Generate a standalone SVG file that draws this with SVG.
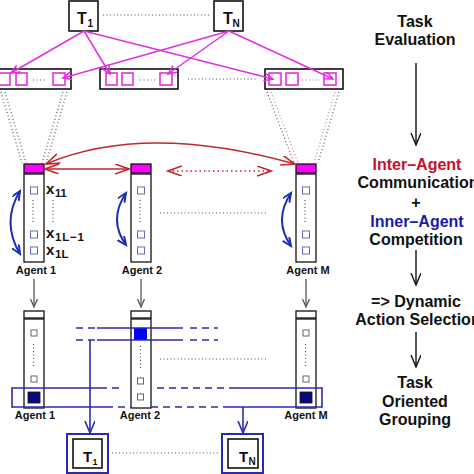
<svg xmlns="http://www.w3.org/2000/svg" width="474" height="474" viewBox="0 0 474 474">
<defs>
<marker id="mArr" markerUnits="userSpaceOnUse" markerWidth="12" markerHeight="10" refX="9" refY="4" orient="auto"><path d="M0,0 L9,4 L0,8" fill="none" stroke="#e030e0" stroke-width="1.5"/></marker>
<marker id="rArr" markerUnits="userSpaceOnUse" markerWidth="16" markerHeight="12" refX="14" refY="5" orient="auto-start-reverse"><path d="M0,0 L14,5 L0,10" fill="none" stroke="#c0282d" stroke-width="1.6"/></marker>
<marker id="bArr" markerUnits="userSpaceOnUse" markerWidth="12" markerHeight="10" refX="9" refY="4" orient="auto-start-reverse"><path d="M0,0 L9,4 L0,8" fill="none" stroke="#1c2fb0" stroke-width="2"/></marker>
<marker id="gArr" markerUnits="userSpaceOnUse" markerWidth="10" markerHeight="10" refX="8" refY="3.5" orient="auto"><path d="M0,0 L8,3.5 L0,7" fill="none" stroke="#555" stroke-width="1.3"/></marker>
<marker id="kArr" markerUnits="userSpaceOnUse" markerWidth="14" markerHeight="12" refX="12" refY="5" orient="auto"><path d="M0,0 L12,5 L0,10" fill="none" stroke="#111" stroke-width="1.4"/></marker>
<marker id="lArr" markerUnits="userSpaceOnUse" markerWidth="14" markerHeight="12" refX="12" refY="5" orient="auto"><path d="M0,0 L12,5 L0,10" fill="none" stroke="#2a2ab0" stroke-width="1.6"/></marker>
</defs>
<style>
.box{fill:#fff;stroke:#111;stroke-width:1.6}
.tbox{fill:none;stroke:#111;stroke-width:1.6}
.msq{fill:none;stroke:#e030e0;stroke-width:1.6}
.mag{stroke:#e030e0;stroke-width:1.5;fill:none}
.dot{stroke:#555;stroke-width:1.2;stroke-dasharray:1 2.5;fill:none}
.pdot{stroke:#d070d0;stroke-width:1.2;stroke-dasharray:1 2.5;fill:none}
.col{fill:#fff;stroke:#111;stroke-width:1.3}
.bar{fill:#ff00ff;stroke:#111;stroke-width:1.3}
.sq{fill:#fff;stroke:#6a6aa8;stroke-width:1}
.gsq{fill:#fff;stroke:#666;stroke-width:1}
.red{stroke:#c0282d;stroke-width:1.6;fill:none}
.blc{stroke:#1c2fb0;stroke-width:2;fill:none}
.bl{stroke:#2a2ab0;stroke-width:1.6;fill:none}
.bld{stroke:#2a2ab0;stroke-width:1.6;fill:none;stroke-dasharray:7 5}
.gl{stroke:#555;stroke-width:1.3;fill:none}
.kl{stroke:#111;stroke-width:1.4;fill:none}
.t{font-family:"Liberation Sans",Arial,sans-serif;font-weight:bold;fill:#111}
.lbl{font-family:"Liberation Sans",Arial,sans-serif;font-weight:bold;font-size:11px;fill:#111;text-anchor:middle}
.side{font-family:"Liberation Sans",Arial,sans-serif;font-weight:bold;font-size:16px;fill:#111;text-anchor:middle}
</style>

<!-- top task nodes -->
<g id="task-T1-top">
<rect class="box" x="69" y="1" width="29" height="30"/>
<text class="t" x="77" y="24" font-size="16">T</text><text class="t" x="87.5" y="27" font-size="10">1</text>
</g>
<g id="task-TN-top">
<rect class="box" x="214" y="1" width="29" height="30"/>
<text class="t" x="223" y="24" font-size="16">T</text><text class="t" x="232.5" y="27" font-size="10">N</text>
</g>
<line class="dot" x1="103" y1="15" x2="210" y2="15"/>

<!-- action buffers -->
<g id="buffer-1">
<rect class="box" x="-2" y="69" width="73" height="20"/>
<rect class="msq" x="-1" y="73" width="11" height="12"/>
<rect class="msq" x="16" y="73" width="11" height="12"/>
<rect class="msq" x="53" y="73" width="12" height="12"/>
<line class="dot" x1="33" y1="80" x2="46" y2="80"/>
</g>
<g id="buffer-2">
<rect class="box" x="100" y="69" width="78" height="20"/>
<rect class="msq" x="106" y="73" width="11" height="12"/>
<rect class="msq" x="122" y="73" width="11" height="12"/>
<rect class="msq" x="160" y="73" width="12" height="12"/>
<line class="dot" x1="140" y1="80" x2="156" y2="80"/>
</g>
<g id="buffer-M">
<rect class="box" x="265" y="69" width="78" height="20"/>
<rect class="msq" x="269" y="73" width="12" height="12"/>
<rect class="msq" x="286" y="73" width="12" height="12"/>
<rect class="msq" x="324" y="73" width="12" height="12"/>
<line class="dot" x1="302" y1="80" x2="320" y2="80" style="stroke:#c06060"/>
</g>
<line class="dot" x1="188" y1="79" x2="258" y2="79"/>

<!-- upper agents -->
<g id="agent-1">
<rect class="bar" x="24" y="164" width="20" height="9"/>
<rect class="col" x="24" y="174" width="20" height="88"/>
<rect class="sq" x="30.5" y="187" width="7" height="7"/>
<rect class="sq" x="30.5" y="231" width="7" height="7"/>
<rect class="sq" x="30.5" y="247" width="7" height="7"/>
<line class="dot" x1="33" y1="200" x2="33" y2="224"/>
<text class="t" x="46" y="194" font-size="15">x</text><text class="t" x="55" y="197" font-size="11">11</text>
<line class="dot" x1="53" y1="200" x2="53" y2="224"/>
<text class="t" x="46" y="238" font-size="15">x</text><text class="t" x="55" y="241" font-size="11.5" letter-spacing="0.8">1L−1</text>
<text class="t" x="46" y="255" font-size="15">x</text><text class="t" x="55" y="258" font-size="11.5">1L</text>
<text class="lbl" x="36" y="274">Agent 1</text>
</g>
<g id="agent-2">
<rect class="bar" x="131" y="164" width="20" height="9"/>
<rect class="col" x="131" y="174" width="20" height="88"/>
<rect class="sq" x="137.5" y="187" width="7" height="7"/>
<rect class="sq" x="137.5" y="231" width="7" height="7"/>
<rect class="sq" x="137.5" y="247" width="7" height="7"/>
<line class="dot" x1="140" y1="200" x2="140" y2="224"/>
<text class="lbl" x="142" y="274">Agent 2</text>
</g>
<g id="agent-M">
<rect class="bar" x="296" y="164" width="20" height="9"/>
<rect class="col" x="296" y="174" width="20" height="88"/>
<rect class="sq" x="302.5" y="187" width="7" height="7"/>
<rect class="sq" x="302.5" y="231" width="7" height="7"/>
<rect class="sq" x="302.5" y="247" width="7" height="7"/>
<line class="dot" x1="305" y1="200" x2="305" y2="224"/>
<text class="lbl" x="308" y="274">Agent M</text>
</g>
<line class="dot" x1="160" y1="213" x2="268" y2="213"/>

<!-- lower agents -->
<g id="agent-1-selected">
<rect class="col" x="24" y="311" width="20" height="7"/>
<rect class="col" x="24" y="319" width="20" height="89"/>
<rect class="gsq" x="31" y="330" width="6" height="6"/>
<line class="dot" x1="33.5" y1="344" x2="33.5" y2="368"/>
<rect class="gsq" x="31" y="376" width="6" height="6"/>
<rect x="28" y="392" width="12" height="11" fill="#0a0a80" stroke="#111" stroke-width="0.8"/>
<text class="lbl" x="35" y="419">Agent 1</text>
</g>
<g id="agent-2-selected">
<rect class="col" x="131" y="311" width="20" height="7"/>
<rect class="col" x="131" y="319" width="20" height="89"/>
<rect x="134" y="328" width="13" height="12" fill="#0000ff"/>
<line class="dot" x1="140.5" y1="346" x2="140.5" y2="368"/>
<rect class="gsq" x="137.5" y="378" width="6" height="6"/>
<rect class="gsq" x="137.5" y="394" width="6" height="6"/>
<text class="lbl" x="140" y="419">Agent 2</text>
</g>
<g id="agent-M-selected">
<rect class="col" x="296" y="311" width="20" height="7"/>
<rect class="col" x="296" y="319" width="20" height="89"/>
<rect class="gsq" x="303" y="330" width="6" height="6"/>
<line class="dot" x1="305.5" y1="344" x2="305.5" y2="368"/>
<rect class="gsq" x="303" y="376" width="6" height="6"/>
<rect x="300" y="392" width="12" height="11" fill="#0a0a80" stroke="#111" stroke-width="0.8"/>
<text class="lbl" x="306" y="419">Agent M</text>
</g>
<line class="dot" x1="160" y1="359" x2="268" y2="359"/>

<!-- bottom task nodes -->
<g id="task-T1-bottom">
<rect x="67" y="434" width="41" height="39" fill="#fff" stroke="#2a2ab0" stroke-width="2"/>
<rect class="tbox" x="73" y="439" width="29" height="29"/>
<text class="t" x="83" y="462" font-size="15">T</text><text class="t" x="92.5" y="465" font-size="9">1</text>
</g>
<g id="task-TN-bottom">
<rect x="222" y="434" width="41" height="39" fill="#fff" stroke="#2a2ab0" stroke-width="2"/>
<rect class="tbox" x="228" y="439" width="30" height="29"/>
<text class="t" x="239" y="462" font-size="15">T</text><text class="t" x="248.5" y="465" font-size="10">N</text>
</g>
<line class="dot" x1="112" y1="453" x2="218" y2="453"/>

<!-- connectors -->
<g id="connectors">
<line class="mag" x1="84" y1="31" x2="11" y2="73" marker-end="url(#mArr)"/>
<line class="mag" x1="84" y1="31" x2="110" y2="74" marker-end="url(#mArr)"/>
<line class="mag" x1="84" y1="31" x2="273" y2="79" marker-end="url(#mArr)"/>
<line class="mag" x1="229" y1="31" x2="63" y2="78" marker-end="url(#mArr)"/>
<line class="mag" x1="229" y1="31" x2="168" y2="74" marker-end="url(#mArr)"/>
<line class="mag" x1="229" y1="31" x2="333" y2="79" marker-end="url(#mArr)"/>

<line class="dot" x1="1" y1="92" x2="22" y2="163"/>
<line class="dot" x1="5" y1="92" x2="26" y2="163"/>
<line class="dot" x1="63" y1="92" x2="42" y2="163"/>
<line class="dot" x1="67" y1="92" x2="46" y2="163"/>
<line class="dot" x1="267" y1="92" x2="294" y2="163"/>
<line class="pdot" x1="271" y1="92" x2="298" y2="163"/>
<line class="pdot" x1="335" y1="92" x2="314" y2="163"/>
<line class="dot" x1="339" y1="92" x2="318" y2="163"/>

<line class="red" x1="45" y1="169" x2="129" y2="169" marker-start="url(#rArr)" marker-end="url(#rArr)"/>
<line class="red" x1="168" y1="171" x2="271" y2="171" stroke-dasharray="1.5 3" marker-start="url(#rArr)" marker-end="url(#rArr)"/>
<path class="red" d="M46,164 Q145,122 295,164" marker-start="url(#rArr)" marker-end="url(#rArr)"/>

<path class="blc" d="M20,191 Q1,222 20,254" marker-start="url(#bArr)" marker-end="url(#bArr)"/>
<path class="blc" d="M126,193 Q108,220 126,245" marker-start="url(#bArr)" marker-end="url(#bArr)"/>
<path class="blc" d="M291,193 Q273,220 291,246" marker-start="url(#bArr)" marker-end="url(#bArr)"/>

<line class="gl" x1="34" y1="279" x2="34" y2="307" marker-end="url(#gArr)"/>
<line class="gl" x1="141" y1="279" x2="141" y2="307" marker-end="url(#gArr)"/>
<line class="gl" x1="306" y1="279" x2="306" y2="307" marker-end="url(#gArr)"/>

<line class="bld" x1="76" y1="328" x2="96" y2="328"/>
<line class="bl" x1="97" y1="328" x2="183" y2="328"/>
<line class="bld" x1="190" y1="328" x2="218" y2="328"/>
<line class="bld" x1="76" y1="340" x2="96" y2="340"/>
<line class="bl" x1="97" y1="340" x2="183" y2="340"/>
<line class="bld" x1="190" y1="340" x2="218" y2="340"/>
<line class="bl" x1="90" y1="340" x2="90" y2="433" marker-end="url(#lArr)"/>

<line class="bl" x1="12" y1="388" x2="100" y2="388"/>
<line class="bld" x1="100" y1="388" x2="120" y2="388"/>
<line class="bld" x1="157" y1="388" x2="230" y2="388"/>
<line class="bl" x1="230" y1="388" x2="322" y2="388"/>
<line class="bl" x1="12" y1="407" x2="106" y2="407"/>
<line class="bld" x1="106" y1="407" x2="131" y2="407"/>
<line class="bld" x1="151" y1="407" x2="230" y2="407"/>
<line class="bl" x1="230" y1="407" x2="322" y2="407"/>
<line class="bl" x1="12" y1="387.2" x2="12" y2="407.8"/>
<line class="bl" x1="322" y1="387.2" x2="322" y2="407.8"/>
<line class="bl" x1="243" y1="407" x2="243" y2="433" marker-end="url(#lArr)"/>

<line class="kl" x1="416" y1="63" x2="416" y2="145" marker-end="url(#kArr)"/>
<line class="kl" x1="416" y1="250" x2="416" y2="285" marker-end="url(#kArr)"/>
<line class="kl" x1="416" y1="332" x2="416" y2="367" marker-end="url(#kArr)"/>
</g>

<!-- side column text -->
<g id="side-labels">
<text class="side" x="415" y="27">Task</text>
<text class="side" x="415" y="45">Evaluation</text>
<text class="side" x="417" y="170" style="fill:#c8102e">Inter–Agent</text>
<text class="side" x="418" y="188">Communication</text>
<text class="side" x="416" y="208">+</text>
<text class="side" x="417" y="227" style="fill:#1a1aa6">Inner–Agent</text>
<text class="side" x="416" y="245">Competition</text>
<text class="side" x="416" y="307">=&gt; Dynamic</text>
<text class="side" x="418" y="325">Action Selection</text>
<text class="side" x="415" y="388">Task</text>
<text class="side" x="415" y="407">Oriented</text>
<text class="side" x="415" y="425">Grouping</text>
</g>
</svg>
